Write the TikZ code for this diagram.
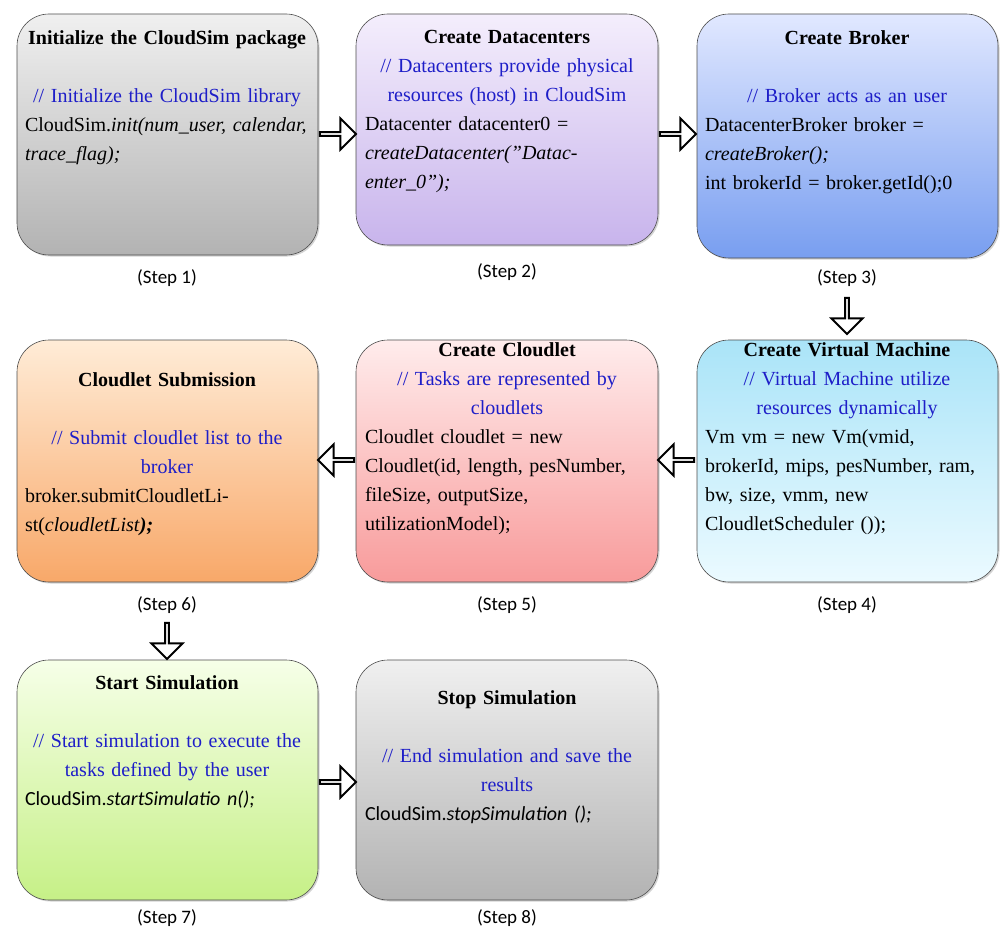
\documentclass[tikz,border=0pt]{standalone}
\usepackage{fontspec}
\setmainfont{Liberation Serif}
\newfontfamily\stepfont{Carlito}
\usetikzlibrary{shapes.arrows,shadows}
\definecolor{cblue}{RGB}{30,30,200}
\tikzset{
  x=1pt,y=-1pt,
  box/.style={draw=black!70,line width=0.6pt,rounded corners=32pt,drop shadow={shadow xshift=1.5pt,shadow yshift=-1.5pt,opacity=0.35}},
  txt/.style={text width=284pt,inner sep=0pt,font=\fontsize{20}{29}\selectfont},
  steplbl/.style={font=\stepfont\fontsize{19}{22}\selectfont},
  arr/.style={single arrow,draw=black,line width=2pt,fill=white,minimum height=36pt,minimum width=31pt,single arrow head extend=7pt,inner sep=0pt},
}
\newcommand{\cm}[1]{{\color{cblue}#1}}
\begin{document}
\begin{tikzpicture}
\useasboundingbox (0,0) rectangle (1005,931);
% boxes
\path[box,top color=gray!12,bottom color=gray!60] (17,14) rectangle (318,255);
\path[box,top color={rgb,255:red,244;green,238;blue,252},bottom color={rgb,255:red,200;green,180;blue,236}] (356,14) rectangle (658,245);
\path[box,top color={rgb,255:red,225;green,232;blue,255},bottom color={rgb,255:red,120;green,158;blue,240}] (697,14) rectangle (998,258);
\path[box,top color={rgb,255:red,170;green,228;blue,248},bottom color={rgb,255:red,235;green,250;blue,255}] (697,340) rectangle (998,582);
\path[box,top color={rgb,255:red,255;green,236;blue,236},bottom color={rgb,255:red,248;green,155;blue,155}] (356,340) rectangle (658,582);
\path[box,top color={rgb,255:red,255;green,236;blue,215},bottom color={rgb,255:red,248;green,168;blue,105}] (17,340) rectangle (318,582);
\path[box,top color={rgb,255:red,246;green,255;blue,232},bottom color={rgb,255:red,198;green,240;blue,135}] (17,660) rectangle (318,900);
\path[box,top color=gray!12,bottom color=gray!60] (356,660) rectangle (658,900);
% texts
\node[txt,anchor=north] (t1) at (167,30) {\centering\textbf{Initialize the CloudSim package}\par\vspace{29pt}\cm{// Initialize the CloudSim library}\par\raggedright CloudSim.\textit{init(num\_user, calendar, trace\_flag);}\par};
\node[txt,anchor=north] (t2) at (507,30) {\centering\textbf{Create Datacenters}\par\cm{// Datacenters provide physical resources (host) in CloudSim}\par\raggedright Datacenter datacenter0 = \textit{createDatacenter("Datac\-enter\_0");}\par};
\node[txt,anchor=north] (t3) at (847,30) {\centering\textbf{Create Broker}\par\vspace{29pt}\cm{// Broker acts as an user}\par\raggedright DatacenterBroker broker = \textit{createBroker();}\par int brokerId = broker.getId();0\par};
\node[txt,anchor=north] (t4) at (847,342) {\centering\textbf{Create Virtual Machine}\par\cm{// Virtual Machine utilize resources dynamically}\par\raggedright Vm vm = new Vm(vmid, brokerId, mips, pesNumber, ram, bw, size, vmm, new CloudletScheduler ());\par};
\node[txt,anchor=north] (t5) at (507,342) {\centering\textbf{Create Cloudlet}\par\cm{// Tasks are represented by cloudlets}\par\raggedright Cloudlet cloudlet = new Cloudlet(id, length, pesNumber, fileSize, outputSize, utilizationModel);\par};
\node[txt,anchor=north] (t6) at (167,372) {\centering\textbf{Cloudlet Submission}\par\vspace{29pt}\cm{// Submit cloudlet list to the broker}\par\raggedright broker.submitCloudletLi\-st(\textit{cloudletList}\textbf{\textit{);}}\par};
\node[txt,anchor=north] (t7) at (167,675) {\centering\textbf{Start Simulation}\par\vspace{29pt}\cm{// Start simulation to execute the tasks defined by the user}\par\raggedright{\stepfont CloudSim.\textit{startSimulatio n();}}\par};
\node[txt,anchor=north] (t8) at (507,690) {\centering\textbf{Stop Simulation}\par\vspace{29pt}\cm{// End simulation and save the results}\par\raggedright{\stepfont CloudSim.\textit{stopSimulation ();}}\par};
% steps
\node[steplbl] (s1) at (167,278) {(Step 1)};
\node[steplbl] (s2) at (507,272) {(Step 2)};
\node[steplbl] (s3) at (847,278) {(Step 3)};
\node[steplbl] (s4) at (847,605) {(Step 4)};
\node[steplbl] (s5) at (507,605) {(Step 5)};
\node[steplbl] (s6) at (167,605) {(Step 6)};
\node[steplbl] (s7) at (167,918) {(Step 7)};
\node[steplbl] (s8) at (507,918) {(Step 8)};
% arrows
\node[arr] (a12) at (337,134) {};
\node[arr] (a23) at (677,134) {};
\node[arr,shape border rotate=270] (a34) at (847,315) {};
\node[arr,shape border rotate=180] (a45) at (677,460) {};
\node[arr,shape border rotate=180] (a56) at (337,460) {};
\node[arr,shape border rotate=270] (a67) at (167,640) {};
\node[arr] (a78) at (337,782) {};
\end{tikzpicture}
\end{document}
